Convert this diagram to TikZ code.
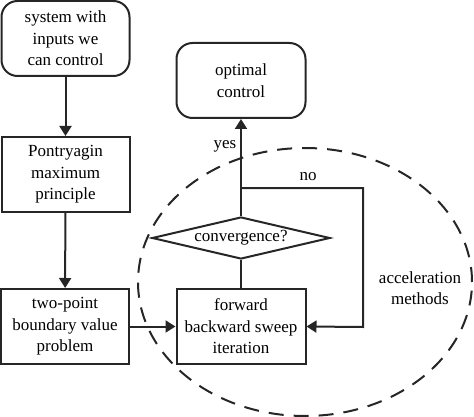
\documentclass[tikz,border=0pt]{standalone}
\usepackage{fontspec}
\setmainfont{Liberation Serif}
\newfontfamily\diagserif{Liberation Serif}
\usetikzlibrary{arrows.meta,shapes.geometric}
\begin{document}
\begin{tikzpicture}[x=1pt,y=-1pt,
  every node/.style={font=\diagserif\fontsize{17}{21.5}\selectfont,text=black},
  boxbase/.style={draw=black!85,line width=2pt,align=center,inner sep=0pt,minimum width=128pt,minimum height=75pt},
  roundbox/.style={boxbase,rounded corners=16pt},
  sqbox/.style={boxbase},
  decision/.style={draw=black!85,line width=2pt,diamond,aspect=4.24,inner sep=0pt,minimum width=178pt,minimum height=42pt},
  conn/.style={draw=black!85,line width=2pt},
  arr/.style={conn,-{Triangle[length=10pt,width=12pt]}},
  lbl/.style={inner sep=0pt}]
\useasboundingbox (0,0) rectangle (474,417);
\begin{scope}
\clip (0,0) rectangle (474,417);
\draw[line width=2pt,black!85,dash pattern=on 15pt off 10pt] (305,282) ellipse [x radius=167pt,y radius=134pt];
\end{scope}
\node[roundbox] (sys) at (65.5,38.5) {system with\\inputs we\\can control};
\node[sqbox] (pmp) at (65.5,174.5) {Pontryagin\\maximum\\principle};
\node[sqbox] (tpb) at (65,326.5) {two-point\\boundary value\\problem};
\node[sqbox,minimum width=129pt] (fbs) at (241,326.5) {forward\\backward sweep\\iteration};
\node[roundbox,minimum width=129pt] (opt) at (241,80.5) {optimal\\control};
\node[decision] (conv) at (241,238) {convergence?};
\coordinate (j) at (241,188);
\coordinate (r1) at (363,188);
\coordinate (r2) at (363,327);
\node[lbl] (yes) at (225,146) {yes};
\node[lbl] (no) at (308,177) {no};
\node[lbl,align=center] (acc) at (420,288) {acceleration\\methods};
\draw[arr] (sys) -- (pmp);
\draw[arr] (pmp) -- (tpb);
\draw[arr] (tpb) -- (fbs);
\draw[conn] (fbs) -- (conv);
\draw[arr] (conv.north) -- (opt.south);
\draw[arr] (j) -- (r1) -- (r2) -- (fbs.east);
\end{tikzpicture}
\end{document}
